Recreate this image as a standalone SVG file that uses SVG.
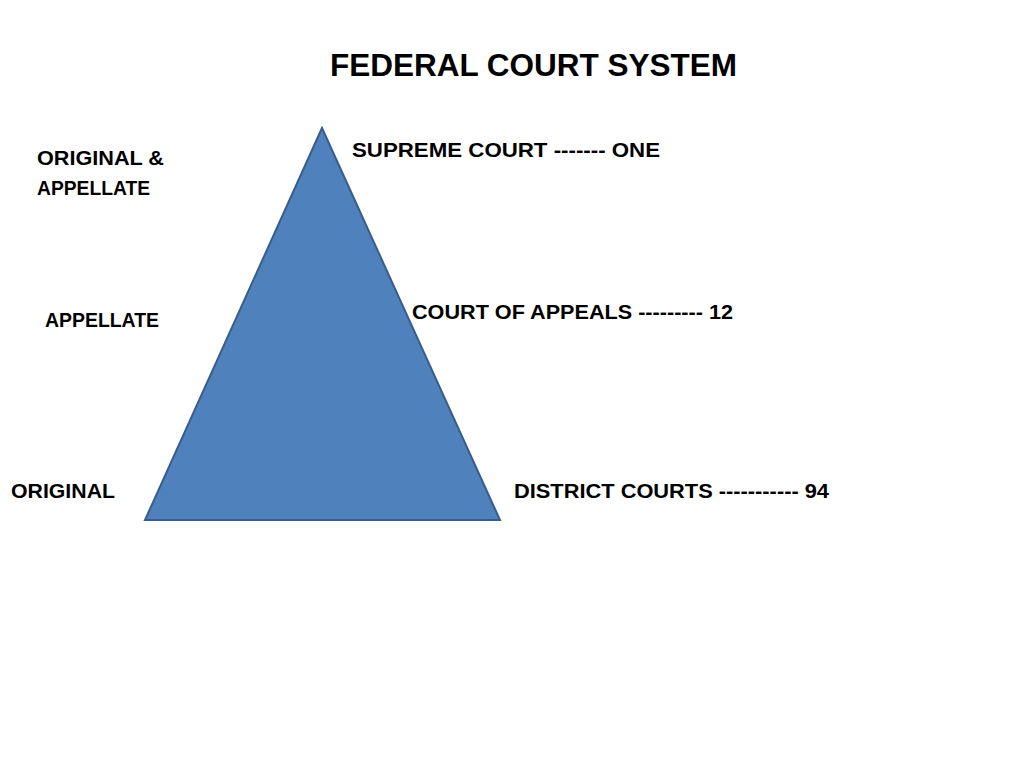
<svg xmlns="http://www.w3.org/2000/svg" width="1024" height="768" viewBox="0 0 1024 768" xml:space="preserve">
<style>
text{font-family:"Liberation Sans",Arial,sans-serif;font-weight:bold;fill:#000;font-size:20px}
.t{font-size:32px}
</style>
<rect width="1024" height="768" fill="#fff"/>
<g id="pyramid"><polygon points="322,128 145,520 500,520" fill="#4F81BD" stroke="#385D8A" stroke-width="2"/></g>
<g id="connectors"/>
<g id="labels">
<text class="t" x="330" y="76" textLength="407" lengthAdjust="spacingAndGlyphs">FEDERAL COURT SYSTEM</text>
<text x="352" y="157" textLength="308" lengthAdjust="spacingAndGlyphs">SUPREME COURT  -------  ONE</text>
<text x="37" y="165" textLength="127" lengthAdjust="spacingAndGlyphs">ORIGINAL &amp;</text>
<text x="37" y="195" textLength="113" lengthAdjust="spacingAndGlyphs">APPELLATE</text>
<text x="45" y="327" textLength="114" lengthAdjust="spacingAndGlyphs">APPELLATE</text>
<text x="412" y="319" textLength="321" lengthAdjust="spacingAndGlyphs">COURT OF APPEALS ---------  12</text>
<text x="11" y="498" textLength="104" lengthAdjust="spacingAndGlyphs">ORIGINAL</text>
<text x="514" y="498" textLength="315" lengthAdjust="spacingAndGlyphs">DISTRICT COURTS -----------  94</text>
</g>
</svg>
